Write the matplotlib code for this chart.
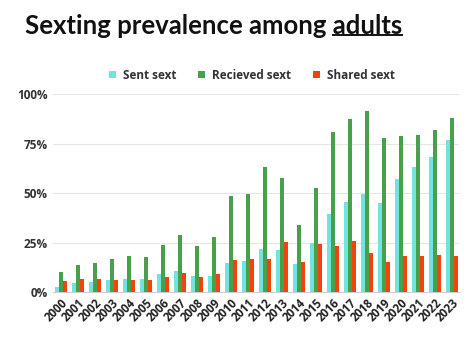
import numpy as np
import matplotlib.pyplot as plt
from matplotlib.lines import Line2D

plt.rcParams["font.family"] = ["Open Sans", "DejaVu Sans"]

years = [str(y) for y in range(2000, 2024)]
sent = [2.5, 4.4, 5.2, 6.1, 6.9, 6.9, 9.1, 10.8, 8.3, 8.3, 14.5, 15.8,
        21.9, 21.1, 14.3, 24.8, 39.3, 45.6, 49.8, 44.9, 57.2, 63.1, 68.5, 77.1]
received = [10.3, 13.7, 15.0, 16.9, 18.5, 18.0, 23.8, 28.9, 23.4, 28.0, 48.6, 49.4,
            63.4, 57.9, 33.9, 52.5, 81.2, 87.6, 91.6, 78.1, 79.1, 79.6, 82.2, 88.1]
shared = [5.7, 6.7, 6.6, 6.1, 6.3, 6.1, 7.9, 9.6, 7.9, 9.3, 16.5, 16.7,
          16.7, 25.6, 15.3, 24.3, 23.3, 26.1, 19.9, 15.5, 18.5, 18.5, 18.9, 18.2]
series = ["Sent sext", "Recieved sext", "Shared sext"]
colors = ["#72E3DD", "#48A04A", "#F2420E"]


def main():
    fig = plt.figure(figsize=(4.74, 3.55), dpi=100)
    ax = fig.add_axes([0.112, 0.177, 0.856, 0.557])

    x = np.arange(len(years))
    w = 0.23
    for i, (vals, c, name) in enumerate(zip([sent, received, shared], colors, series)):
        ax.bar(x + (i - 1) * w, vals, width=w, color=c, label=name, zorder=3)

    ax.set_xlim(-0.45, len(years) - 0.6)
    ax.set_ylim(0, 100)
    ax.set_yticks([0, 25, 50, 75, 100])
    ax.set_yticklabels([f"{v}%" for v in [0, 25, 50, 75, 100]],
                       fontsize=8.5, fontweight="bold", color="#333333")
    ax.set_xticks(x)
    ax.set_xticklabels(years, rotation=45, ha="right", rotation_mode="anchor",
                       fontsize=8.3, fontweight="bold", color="#222222")
    ax.tick_params(length=0, pad=4)
    ax.tick_params(axis="x", pad=3)
    ax.grid(axis="y", color="#e6e6e6", linewidth=0.8, zorder=0)
    for s in ["top", "right", "left"]:
        ax.spines[s].set_visible(False)
    ax.spines["bottom"].set_color("#d0d0d0")

    ax.legend(loc="lower center", bbox_to_anchor=(0.49, 1.01), ncol=3,
              frameon=False, handlelength=0.6, handleheight=0.6,
              columnspacing=1.8, handletextpad=0.6,
              prop={"size": 8.5, "weight": "bold"}, labelcolor="#333333")

    # title with underlined last word
    tfont = {"family": ["Lato", "DejaVu Sans"], "size": 18.5, "weight": "bold"}
    t = fig.text(0.053, 0.905, "Sexting prevalence among adults",
                 color="#111111", **tfont)
    fig.canvas.draw()
    r = fig.canvas.get_renderer()
    bb = t.get_window_extent(r)
    tmp = fig.text(0, 0, "adults", **tfont)
    wa = tmp.get_window_extent(r).width
    tmp.remove()
    y0 = bb.y0 + 3
    fig.add_artist(Line2D([bb.x1 - wa, bb.x1], [y0, y0], color="#111111",
                          linewidth=1.4, transform=None))

    fig.savefig("out.png", dpi=100)
    plt.close(fig)


if __name__ == "__main__":
    main()
